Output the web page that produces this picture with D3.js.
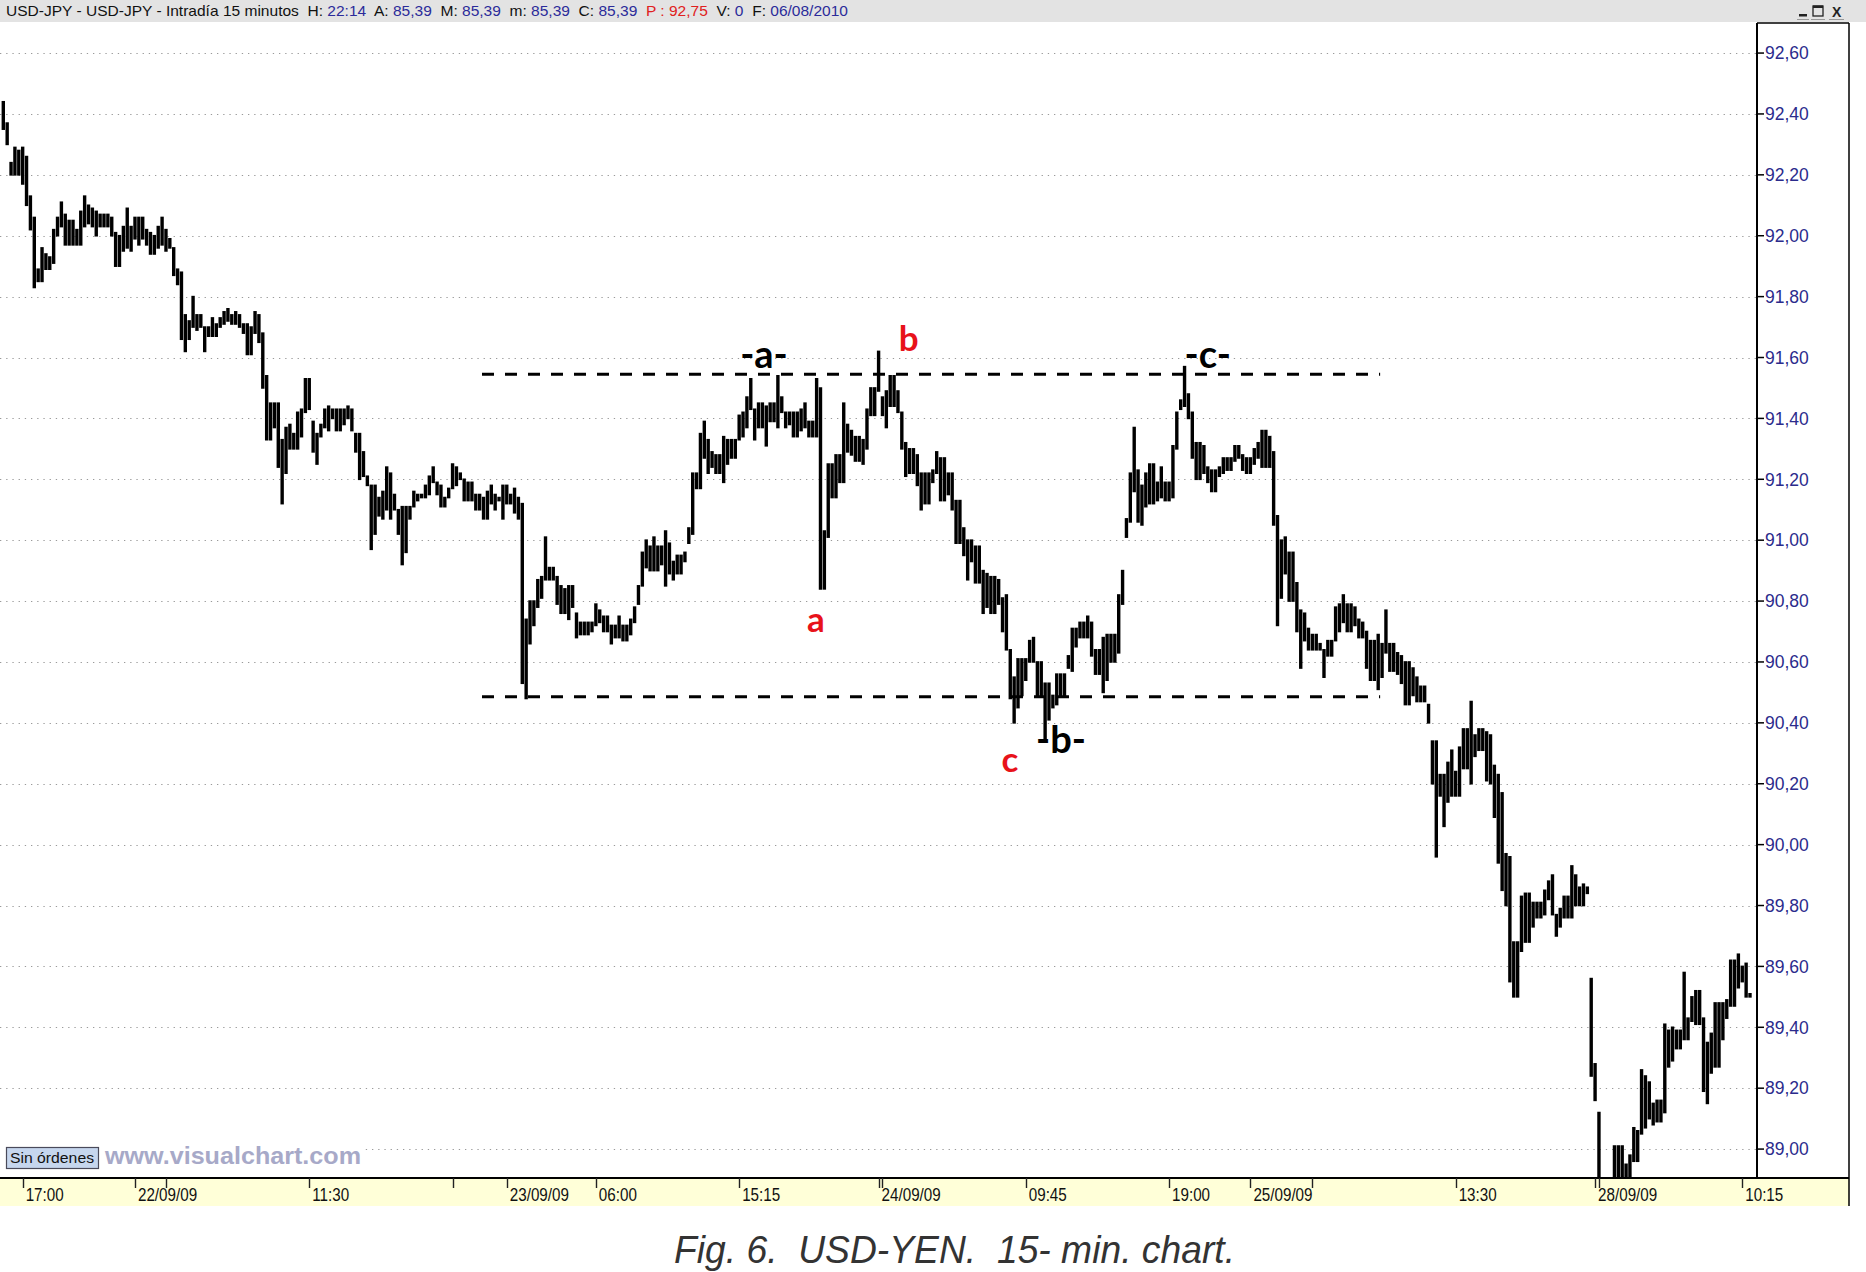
<!DOCTYPE html>
<html><head><meta charset="utf-8">
<script src="https://cdn.jsdelivr.net/npm/d3@7"></script>
<style>body{margin:0;background:#fff}svg{display:block}</style>
</head><body><svg id="c" width="1866" height="1272"></svg>
<script>
// 15-minute bars, USD-JPY, 21/09/09 15:45 .. 28/09/09 ~11:00 (bar index = position)
const highs = [
92.44,92.37,92.24,92.29,92.28,92.29,92.26,92.13,92.06,91.89,
91.96,91.94,91.93,92.02,92.06,92.11,92.07,92.05,92.05,92.02,
92.08,92.13,92.10,92.09,92.08,92.07,92.07,92.07,92.06,92.01,
92.00,92.03,92.09,92.03,92.06,92.06,92.06,92.02,92.01,92.00,
92.03,92.06,92.02,91.99,91.96,91.89,91.88,91.74,91.72,91.80,
91.74,91.74,91.70,91.70,91.73,91.71,91.73,91.75,91.76,91.74,
91.75,91.74,91.71,91.71,91.70,91.75,91.74,91.68,91.54,91.45,
91.45,91.45,91.33,91.37,91.38,91.35,91.42,91.43,91.53,91.53,
91.39,91.35,91.38,91.43,91.44,91.43,91.43,91.43,91.43,91.44,
91.43,91.35,91.35,91.29,91.21,91.18,91.18,91.14,91.16,91.24,
91.22,91.15,91.10,91.11,91.11,91.11,91.16,91.15,91.15,91.18,
91.21,91.24,91.19,91.18,91.14,91.17,91.25,91.24,91.22,91.20,
91.19,91.19,91.15,91.15,91.14,91.16,91.18,91.15,91.14,91.18,
91.18,91.15,91.17,91.14,91.12,90.74,90.80,90.80,90.87,90.88,
91.01,90.91,90.91,90.88,90.85,90.84,90.85,90.85,90.76,90.73,
90.73,90.73,90.73,90.79,90.77,90.75,90.75,90.72,90.72,90.75,
90.72,90.72,90.74,90.78,90.85,90.96,91.00,90.98,91.01,90.98,
90.98,91.03,90.99,90.93,90.95,90.95,90.96,91.04,91.22,91.22,
91.35,91.39,91.33,91.29,91.28,91.28,91.34,91.33,91.33,91.33,
91.41,91.42,91.47,91.53,91.43,91.45,91.45,91.44,91.45,91.45,
91.54,91.47,91.42,91.42,91.42,91.42,91.43,91.45,91.39,91.39,
91.53,91.50,91.03,91.25,91.25,91.28,91.28,91.45,91.38,91.36,
91.34,91.34,91.33,91.43,91.50,91.50,91.62,91.47,91.49,91.54,
91.54,91.49,91.42,91.32,91.30,91.30,91.28,91.22,91.22,91.22,
91.23,91.29,91.27,91.27,91.22,91.22,91.13,91.13,91.04,91.00,
91.00,90.98,90.98,90.90,90.89,90.88,90.88,90.87,90.81,90.82,
90.64,90.55,90.61,90.61,90.61,90.67,90.68,90.60,90.60,90.53,
90.53,90.49,90.56,90.56,90.56,90.62,90.71,90.71,90.73,90.73,
90.75,90.73,90.64,90.64,90.68,90.69,90.69,90.69,90.82,90.90,
91.07,91.22,91.37,91.23,91.18,91.22,91.25,91.25,91.19,91.24,
91.19,91.19,91.31,91.42,91.46,91.57,91.48,91.42,91.32,91.32,
91.31,91.24,91.23,91.23,91.24,91.27,91.27,91.27,91.31,91.31,
91.28,91.27,91.27,91.30,91.32,91.36,91.36,91.34,91.29,91.08,
91.00,91.01,90.96,90.96,90.86,90.77,90.76,90.71,90.69,90.69,
90.66,90.64,90.67,90.67,90.78,90.79,90.82,90.79,90.79,90.78,
90.74,90.73,90.70,90.67,90.67,90.69,90.66,90.77,90.66,90.66,
90.63,90.62,90.60,90.60,90.58,90.55,90.52,90.52,90.46,90.34,
90.34,90.23,90.23,90.27,90.31,90.24,90.32,90.38,90.38,90.47,
90.36,90.38,90.38,90.37,90.36,90.26,90.23,90.17,89.97,89.96,
89.68,89.68,89.83,89.84,89.84,89.81,89.81,89.81,89.85,89.88,
89.90,89.77,89.79,89.83,89.83,89.93,89.90,89.86,89.87,89.86,
89.56,89.28,89.12,88.85,88.80,88.86,89.01,89.01,89.01,88.95,
88.98,89.07,89.06,89.26,89.24,89.22,89.15,89.16,89.16,89.41,
89.39,89.40,89.39,89.39,89.58,89.43,89.50,89.52,89.52,89.43,
89.35,89.38,89.48,89.48,89.48,89.49,89.62,89.62,89.64,89.60,
89.61,89.51];
const lows = [
92.35,92.30,92.20,92.20,92.20,92.17,92.10,92.02,91.83,91.85,
91.85,91.89,91.89,91.91,92.00,92.03,91.97,91.97,91.97,91.97,
91.97,92.03,92.04,92.03,92.00,92.03,92.03,92.03,92.00,91.90,
91.90,91.95,91.96,91.95,91.99,91.97,91.99,91.97,91.94,91.94,
91.96,91.97,91.95,91.96,91.87,91.84,91.66,91.62,91.66,91.70,
91.69,91.70,91.62,91.67,91.67,91.67,91.70,91.71,91.72,91.71,
91.71,91.70,91.68,91.61,91.61,91.68,91.65,91.50,91.33,91.33,
91.37,91.24,91.12,91.22,91.30,91.30,91.30,91.34,91.42,91.43,
91.29,91.25,91.34,91.37,91.36,91.40,91.36,91.36,91.38,91.40,
91.36,91.29,91.20,91.21,91.18,90.97,91.02,91.08,91.07,91.10,
91.07,91.10,91.02,90.92,90.96,91.07,91.11,91.13,91.14,91.14,
91.15,91.19,91.15,91.11,91.11,91.14,91.17,91.18,91.20,91.13,
91.13,91.13,91.10,91.10,91.07,91.07,91.12,91.10,91.13,91.07,
91.12,91.12,91.09,91.07,90.53,90.48,90.66,90.72,90.78,90.81,
90.87,90.87,90.87,90.79,90.76,90.76,90.74,90.78,90.68,90.69,
90.69,90.69,90.70,90.72,90.73,90.70,90.70,90.66,90.68,90.68,
90.67,90.67,90.69,90.73,90.79,90.85,90.91,90.90,90.90,90.90,
90.92,90.85,90.89,90.87,90.89,90.89,90.93,90.99,91.02,91.17,
91.17,91.27,91.22,91.24,91.22,91.22,91.19,91.25,91.27,91.27,
91.33,91.34,91.37,91.43,91.33,91.37,91.37,91.31,91.39,91.39,
91.37,91.42,91.37,91.38,91.34,91.34,91.36,91.37,91.34,91.34,
91.34,90.84,90.84,91.01,91.14,91.14,91.19,91.19,91.29,91.28,
91.26,91.26,91.25,91.30,91.41,91.41,91.49,91.41,91.37,91.44,
91.44,91.42,91.30,91.21,91.22,91.22,91.18,91.10,91.12,91.12,
91.19,91.22,91.13,91.13,91.15,91.10,90.99,90.99,90.95,90.87,
90.93,90.86,90.86,90.76,90.78,90.76,90.76,90.79,90.70,90.64,
90.48,90.40,90.45,90.49,90.54,90.60,90.60,90.49,90.49,90.34,
90.41,90.45,90.46,90.49,90.49,90.58,90.57,90.65,90.68,90.68,
90.68,90.62,90.56,90.56,90.50,90.54,90.60,90.60,90.63,90.79,
91.01,91.06,91.16,91.06,91.05,91.11,91.12,91.12,91.13,91.14,
91.13,91.13,91.14,91.30,91.43,91.44,91.40,91.27,91.20,91.20,
91.22,91.19,91.16,91.16,91.21,91.22,91.23,91.23,91.26,91.27,
91.23,91.22,91.22,91.25,91.27,91.24,91.24,91.24,91.05,90.72,
90.81,90.89,90.80,90.80,90.70,90.58,90.67,90.64,90.64,90.64,
90.64,90.55,90.62,90.62,90.67,90.70,90.73,90.70,90.70,90.72,
90.68,90.68,90.58,90.54,90.54,90.51,90.55,90.63,90.57,90.57,
90.56,90.53,90.46,90.46,90.49,90.47,90.47,90.47,90.40,90.20,
89.96,90.16,90.06,90.14,90.16,90.16,90.16,90.25,90.25,90.20,
90.29,90.31,90.31,90.21,90.20,90.09,89.94,89.85,89.80,89.55,
89.50,89.50,89.65,89.68,89.68,89.73,89.76,89.76,89.77,89.82,
89.77,89.70,89.73,89.76,89.76,89.76,89.80,89.80,89.80,89.84,
89.24,89.16,88.80,88.70,88.65,88.70,88.80,88.85,88.85,88.80,
88.85,88.96,88.96,89.05,89.07,89.10,89.08,89.09,89.09,89.12,
89.27,89.29,89.33,89.33,89.36,89.36,89.42,89.41,89.41,89.19,
89.15,89.25,89.27,89.27,89.36,89.43,89.47,89.47,89.53,89.55,
89.50,89.50];

const yTicks = [89.00,89.20,89.40,89.60,89.80,90.00,90.20,90.40,90.60,90.80,91.00,91.20,91.40,91.60,91.80,92.00,92.20,92.40,92.60];
const timeTicks = [[5,"17:00"],[42,""],[79,"11:30"],[116,""],[153,"06:00"],[190,"15:15"],[227,""],[264,"09:45"],[301,"19:00"],[338,""],[375,"13:30"],[412,""],[449,"10:15"]];
const dateTicks = [[34,"22/09/09"],[130,"23/09/09"],[226,"24/09/09"],[322,"25/09/09"],[411,"28/09/09"]];
const levelValues = [91.545, 90.486];
const levelSpan = [123.6, 355.5];
const blackNotes = [["-a-",196.4,91.565],["-c-",311.0,91.565],["-b-",273.1,90.30]];
const redNotes = [["b",233.8,91.621],["a",209.8,90.698],["c",259.9,90.238]];
const titleParts = [["USD-JPY - USD-JPY - Intradía 15 minutos  H: ","#111"],["22:14","#2b2b9a"],["  A: ","#111"],["85,39","#2b2b9a"],["  M: ","#111"],["85,39","#2b2b9a"],["  m: ","#111"],["85,39","#2b2b9a"],["  C: ","#111"],["85,39","#2b2b9a"],["  P : 92,75","#e02020"],["  V: ","#111"],["0","#2b2b9a"],["  F: ","#111"],["06/08/2010","#2b2b9a"]];

const W = 1866, H = 1272;
const plotL = 0, plotR = 1757, plotT = 22, plotB = 1178, panelR = 1849;
const svg = d3.select("#c");

const x = d3.scaleLinear().domain([0, 451]).range([3.3, 1750.0]);
const y = d3.scaleLinear().domain([88.905, 92.702]).range([plotB, plotT]);

// title bar
svg.append("rect").attr("x",0).attr("y",0).attr("width",W).attr("height",22).attr("fill","#e3e3e3");
const tt = svg.append("text").attr("x",6).attr("y",16).attr("font-family","Liberation Sans, Arial, sans-serif")
  .attr("font-size",15).attr("textLength",842).attr("lengthAdjust","spacingAndGlyphs").attr("xml:space","preserve");
titleParts.forEach(p=>tt.append("tspan").attr("fill",p[1]).text(p[0]));
// window buttons
const wb = svg.append("g");
wb.append("rect").attr("x",1799).attr("y",14).attr("width",8).attr("height",2.5).attr("fill","#222");
wb.append("rect").attr("x",1813).attr("y",6).attr("width",10).attr("height",10).attr("fill","none").attr("stroke","#222").attr("stroke-width",1.3);
wb.append("rect").attr("x",1813).attr("y",5.5).attr("width",10).attr("height",2.5).attr("fill","#222");
wb.append("text").attr("x",1832).attr("y",17).attr("font-family","Liberation Sans, Arial").attr("font-weight","bold").attr("font-size",14).attr("fill","#222").text("X");
[[1797,1809],[1811,1825],[1829,1844]].forEach(s=>wb.append("line").attr("x1",s[0]).attr("x2",s[1]).attr("y1",19.5).attr("y2",19.5).attr("stroke","#999").attr("stroke-width",1));

// gridlines
svg.append("g").selectAll("line").data(yTicks).join("line")
  .attr("x1",plotL).attr("x2",plotR).attr("y1",d=>Math.round(y(d))+0.5).attr("y2",d=>Math.round(y(d))+0.5)
  .attr("stroke","#9a9a9a").attr("stroke-width",1.2).attr("stroke-dasharray","1.3,4.9");

// clip
svg.append("clipPath").attr("id","pc").append("rect").attr("x",plotL).attr("y",plotT).attr("width",plotR-plotL).attr("height",plotB-plotT);

// dashed support/resistance levels
svg.append("g").selectAll("line").data(levelValues).join("line")
  .attr("x1",x(levelSpan[0])).attr("x2",x(levelSpan[1])).attr("y1",d=>y(d)).attr("y2",d=>y(d))
  .attr("stroke","#000").attr("stroke-width",3).attr("stroke-dasharray","12,11");

// bars
svg.append("g").attr("clip-path","url(#pc)").selectAll("line").data(highs).join("line")
  .attr("x1",(d,i)=>x(i)).attr("x2",(d,i)=>x(i))
  .attr("y1",(d,i)=>y(highs[i])-0.8).attr("y2",(d,i)=>y(lows[i])+0.8)
  .attr("stroke","#000").attr("stroke-width",3.4);

// annotations
svg.append("g").selectAll("text").data(blackNotes).join("text")
  .attr("x",d=>x(d[1])).attr("y",d=>y(d[2])).attr("text-anchor","middle")
  .attr("font-family","Lato, Open Sans, sans-serif").attr("font-weight","bold").attr("font-size",38).attr("fill","#000").text(d=>d[0]);
svg.append("g").selectAll("text").data(redNotes).join("text")
  .attr("x",d=>x(d[1])).attr("y",d=>y(d[2])).attr("text-anchor","middle")
  .attr("font-family","Lato, Open Sans, sans-serif").attr("font-weight","bold").attr("font-size",35).attr("fill","#e8121a").text(d=>d[0]);

// watermark area
svg.append("rect").attr("x",0).attr("y",1141).attr("width",362).attr("height",30).attr("fill","#fff");
svg.append("rect").attr("x",6.5).attr("y",1147.5).attr("width",92).attr("height",21).attr("fill","#c6d6ee").attr("stroke","#4a4a5a").attr("stroke-width",1.2);
svg.append("text").attr("x",10).attr("y",1163).attr("font-family","Liberation Sans, Arial").attr("font-size",14).attr("fill","#111")
  .attr("textLength",84).attr("lengthAdjust","spacingAndGlyphs").text("Sin órdenes");
svg.append("text").attr("x",105).attr("y",1164).attr("font-family","Liberation Sans, Arial").attr("font-weight","bold").attr("font-size",24).attr("fill","#a7a9c8")
  .attr("textLength",256).attr("lengthAdjust","spacingAndGlyphs").text("www.visualchart.com");

// date band
svg.append("rect").attr("x",0).attr("y",plotB).attr("width",panelR).attr("height",28).attr("fill","#ffffd8");

// y axis panel
svg.append("line").attr("x1",plotR).attr("x2",plotR).attr("y1",plotT+1).attr("y2",plotB).attr("stroke","#000").attr("stroke-width",2);
svg.append("line").attr("x1",plotR).attr("x2",panelR).attr("y1",23).attr("y2",23).attr("stroke","#000").attr("stroke-width",1.5);
svg.append("line").attr("x1",panelR).attr("x2",panelR).attr("y1",23).attr("y2",plotB+28).attr("stroke","#000").attr("stroke-width",1.5);
const ya = svg.append("g");
ya.selectAll("line").data(yTicks).join("line").attr("x1",plotR).attr("x2",plotR+7)
  .attr("y1",d=>y(d)).attr("y2",d=>y(d)).attr("stroke","#000").attr("stroke-width",1.5);
ya.selectAll("text").data(yTicks).join("text").attr("x",plotR+8).attr("y",d=>y(d)).attr("dy","0.36em")
  .attr("font-family","Liberation Sans, Arial, sans-serif").attr("font-size",17.5).attr("fill","#2b2b8c")
  .text(d=>d3.format(".2f")(d).replace(".",","));

// x axis
svg.append("line").attr("x1",0).attr("x2",panelR).attr("y1",plotB).attr("y2",plotB).attr("stroke","#000").attr("stroke-width",2);
const xa = svg.append("g");
const allTicks = timeTicks.concat(dateTicks);
xa.selectAll("line").data(allTicks).join("line").attr("x1",d=>Math.round(x(d[0]))+0.5).attr("x2",d=>Math.round(x(d[0]))+0.5)
  .attr("y1",plotB).attr("y2",plotB+10).attr("stroke","#222").attr("stroke-width",1.4);
xa.selectAll("g").data(allTicks.filter(d=>d[1])).join("g")
  .attr("transform",d=>`translate(${x(d[0])+3},${plotB+23}) scale(0.8,1)`)
  .append("text").attr("font-family","Liberation Sans, Arial, sans-serif").attr("font-size",19).attr("fill","#111").text(d=>d[1]);

// caption
svg.append("text").attr("x",674).attr("y",1263).attr("font-family","Liberation Sans, Arial, sans-serif").attr("font-style","italic")
  .attr("font-size",39).attr("fill","#333").attr("textLength",561).attr("lengthAdjust","spacingAndGlyphs").attr("xml:space","preserve")
  .text("Fig. 6.  USD-YEN.  15- min. chart.");
</script></body></html>
